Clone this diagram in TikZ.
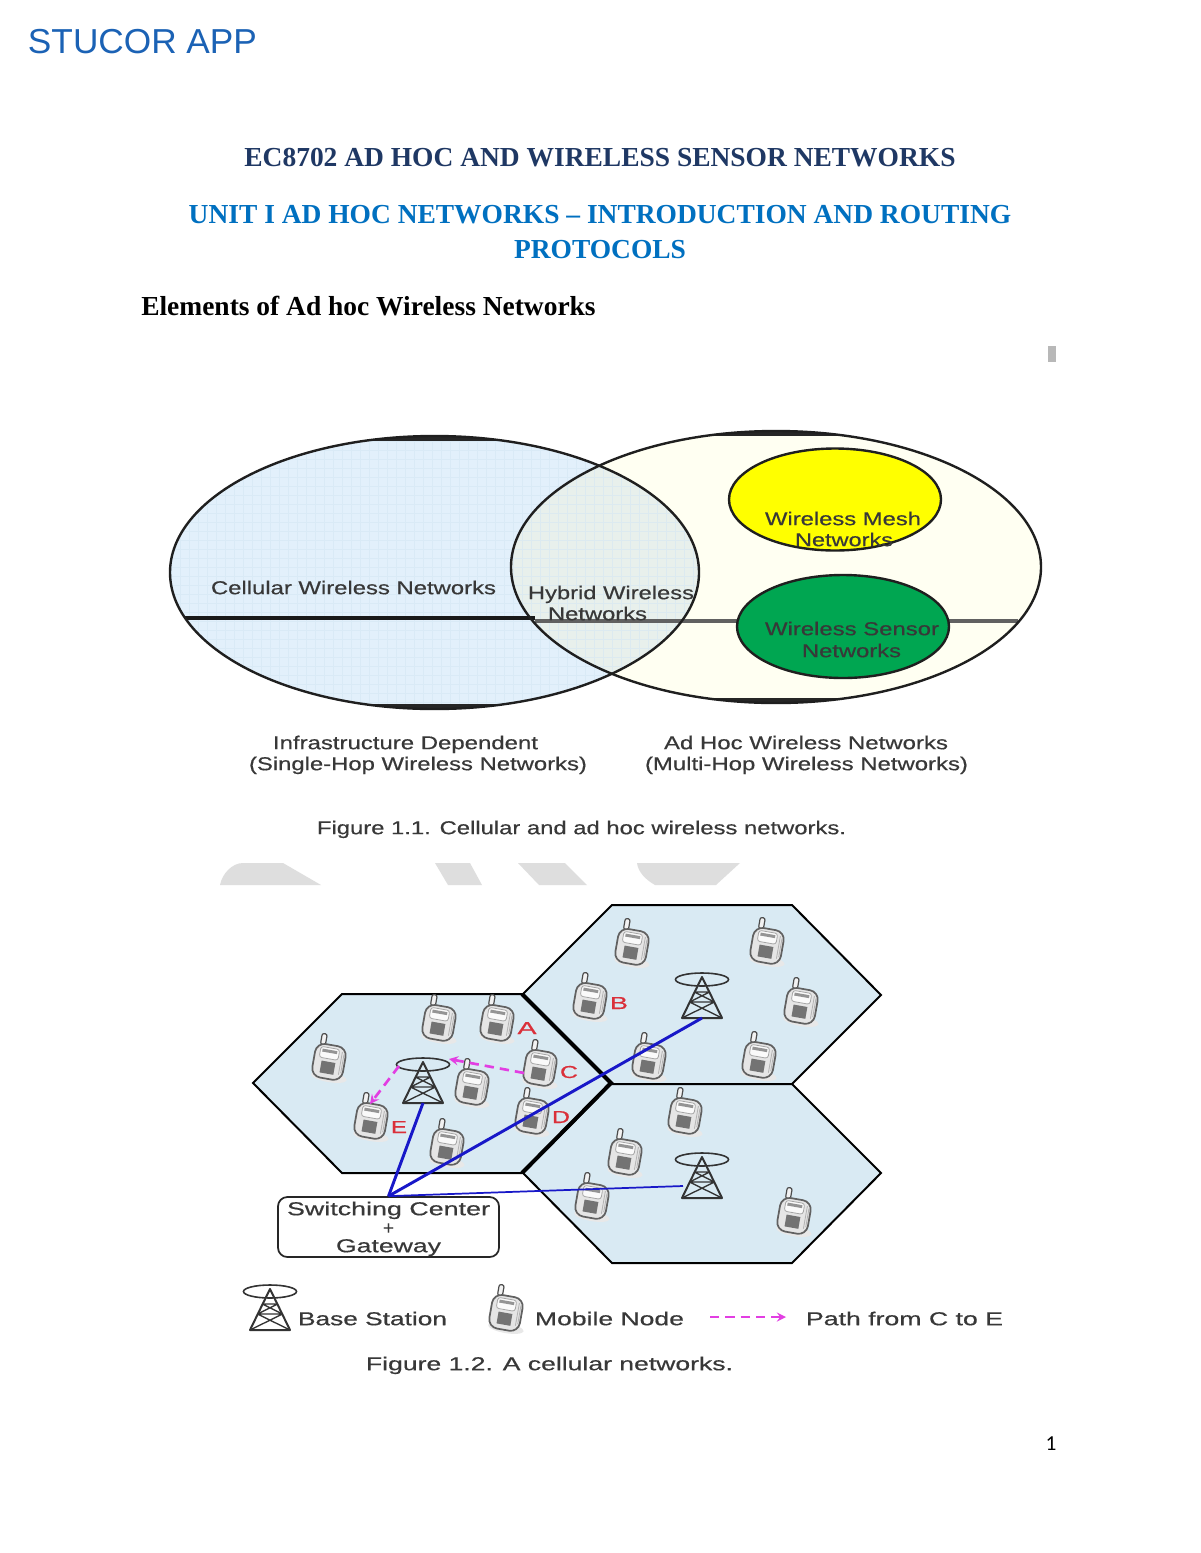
\documentclass[tikz,border=0pt]{standalone}
\usepackage{graphicx}
\usepackage{xcolor}
\usepackage{fontspec}
\setmainfont{Liberation Serif}
\newfontfamily\labelfont[FakeBold=0.4]{Liberation Sans}
\newfontfamily\brandfont{Liberation Sans}
\newfontfamily\pagefont{Carlito}
\usepackage{tikz}

% text stretched to a width given in pixels of the page
\newcommand{\fitwidth}[2]{\resizebox{\dimexpr #1pt*3/4\relax}{\height}{#2}}

\tikzset{
  headline/.style={inner sep=0.75pt,font=\fontsize{20.6}{24}\selectfont\bfseries},
  figlabel/.style={inner sep=0pt,text height=10.8pt,text depth=0pt,text=black!78,font=\labelfont\fontsize{14}{16}\selectfont},
  letterlabel/.style={inner sep=0pt,text height=10.5pt,text depth=0pt,text={rgb,255:red,218;green,48;blue,58},font=\labelfont\fontsize{13}{15}\selectfont},
  hexcell/.style={draw=black,line width=1.5pt,line join=miter,fill={rgb,255:red,217;green,234;blue,243}},
  sharededge/.style={draw=black,line width=3pt,line join=miter},
  venndark/.style={fill=black!85},
  vennline/.style={draw=black!88,line width=1.8pt},
  trunkthick/.style={draw={rgb,255:red,24;green,24;blue,200},line width=2.2pt},
  trunkthin/.style={draw={rgb,255:red,24;green,24;blue,200},line width=1.3pt},
  magentapath/.style={draw={rgb,255:red,226;green,62;blue,226},line width=2pt,dash pattern=on 7pt off 4.5pt,->,>=stealth},
  mobile/.pic={
    \fill [black!9] (2,-18) ellipse [x radius=18,y radius=5];
    \draw [black!70,fill=black!5,line width=0.9pt] (-12,13) [rounded corners=1.5pt] rectangle (-7,24);
    \draw [black!62,fill=black!10,line width=1.3pt] (-16,14) [rounded corners=7pt] rectangle (15,-20);
    \draw [black!35,fill=black!2,line width=0.6pt] (-11,11) [rounded corners=2pt] rectangle (8,0);
    \fill [black!42] (-9,9) rectangle (6,6);
    \fill [black!55] (-8,-3) rectangle (6,-15);
    \draw [black!30,line width=0.6pt] (11,9) -- (11,-14);
    \draw [black!30,line width=0.6pt] (13,7) -- (13,-12);
  },
  tower/.pic={
    \draw [black!80,line width=1.2pt] (0,38.5) ellipse [x radius=26.5,y radius=6.5];
    \draw [black!80,line width=1.5pt,line join=round] (-20,0) -- (0,41) -- (20,0) -- cycle;
    \draw [black!80,line width=1pt] (-12.5,16) -- (12.5,16) (-7.5,26) -- (7.5,26) (-12.5,16) -- (20,0) (12.5,16) -- (-20,0) (-7.5,26) -- (12.5,16) (7.5,26) -- (-12.5,16);
  },
}

\begin{document}
\begin{tikzpicture}[x=0.75pt,y=0.75pt,yscale=-1,xscale=1]
\useasboundingbox (0,0) rectangle (1200,1553);
\fill [white] (0,0) rectangle (1200,1553);

% Text Node
\draw (142.5,42) node (appname) [inner sep=0pt,text={rgb,255:red,27;green,98;blue,181},font=\brandfont\fontsize{26}{30}\selectfont] {\fitwidth{229}{STUCOR APP}};
% Text Node
\draw (600,158) node (coursetitle) [headline,text={rgb,255:red,31;green,56;blue,100}] {EC8702 AD HOC AND WIRELESS SENSOR NETWORKS};
% Text Node
\draw (600,215) node (unitone) [headline,text={rgb,255:red,0;green,112;blue,192}] {UNIT I AD HOC NETWORKS -- INTRODUCTION AND ROUTING};
% Text Node
\draw (600,250) node (unittwo) [headline,text={rgb,255:red,0;green,112;blue,192}] {PROTOCOLS};
% Text Node
\draw (140,306) node (elements) [headline,anchor=west,text=black] {Elements of Ad hoc Wireless Networks};
% Text Node
\draw (1051,1444) node (pagenum) [inner sep=0pt,font=\pagefont\fontsize{16}{18}\selectfont] {1};

%Small mark
\fill [black!28] (1048,346) rectangle (1056,362);

%Venn fills
\fill [fill={rgb,255:red,255;green,255;blue,242}] (776,567) ellipse [x radius=265,y radius=136];
\fill [fill={rgb,255:red,226;green,240;blue,251}] (434.5,572.5) ellipse [x radius=264.5,y radius=136.5];
\begin{scope}
\clip (434.5,572.5) ellipse [x radius=264.5,y radius=136.5];
\fill [fill={rgb,255:red,232;green,240;blue,236}] (776,567) ellipse [x radius=265,y radius=136];
\draw [draw={rgb,255:red,212;green,230;blue,244},line width=0.5pt,opacity=0.6,step=9] (170,430) grid (700,715);
\end{scope}
%Dark bands of the left ellipse
\begin{scope}
\clip (434.5,572.5) ellipse [x radius=264.5,y radius=136.5];
\fill [venndark] (170,430) rectangle (700,441);
\fill [venndark] (170,704) rectangle (700,715);
\end{scope}
%Dark bands of the right ellipse
\begin{scope}
\clip (776,567) ellipse [x radius=265,y radius=136];
\fill [venndark] (510,425) rectangle (1042,436);
\fill [venndark] (510,698) rectangle (1042,710);
\end{scope}
%Straight Lines
\draw [draw=black!90,line width=2.6pt] (185,618) -- (535,618);
\draw [draw=black!62,line width=2.6pt] (535,621) -- (1018,621);
%Venn outlines
\draw [vennline] (434.5,572.5) ellipse [x radius=264.5,y radius=136.5];
\draw [vennline] (776,567) ellipse [x radius=265,y radius=136];
\draw [vennline,fill={rgb,255:red,255;green,255;blue,0}] (835,499.5) ellipse [x radius=106,y radius=51];
\draw [vennline,fill={rgb,255:red,0;green,166;blue,81}] (843,626.5) ellipse [x radius=106,y radius=51.5];

% Text Node
\draw (353.5,587) node (cellular) [figlabel] {\fitwidth{285}{Cellular Wireless Networks}};
% Text Node
\draw (611,592) node (hybrid) [figlabel] {\fitwidth{166}{Hybrid Wireless}};
% Text Node
\draw (597.5,613) node (hybridnet) [figlabel] {\fitwidth{99}{Networks}};
% Text Node
\draw (843,518) node (mesh) [figlabel] {\fitwidth{156}{Wireless Mesh}};
% Text Node
\draw (844,539) node (meshnet) [figlabel] {\fitwidth{98}{Networks}};
% Text Node
\draw (852,628) node (sensor) [figlabel] {\fitwidth{174}{Wireless Sensor}};
% Text Node
\draw (851.5,650) node (sensornet) [figlabel] {\fitwidth{99}{Networks}};
% Text Node
\draw (405.5,742) node (infra) [figlabel] {\fitwidth{265}{Infrastructure Dependent}};
% Text Node
\draw (418,763) node (singlehop) [figlabel] {\fitwidth{338}{(Single-Hop Wireless Networks)}};
% Text Node
\draw (806,742) node (adhoc) [figlabel] {\fitwidth{284}{Ad Hoc Wireless Networks}};
% Text Node
\draw (806.5,763) node (multihop) [figlabel] {\fitwidth{323}{(Multi-Hop Wireless Networks)}};
% Text Node
\draw (581.5,827) node (figone) [figlabel] {\fitwidth{529}{Figure 1.1. Cellular and ad hoc wireless networks.}};

%Watermark pieces
\fill [black!13] (220,885) .. controls (222,874) and (232,863) .. (243,863) -- (283,863) -- (321,885) -- cycle;
\fill [black!13] (435,863) -- (470,863) -- (482,885) -- (448,885) -- cycle;
\fill [black!13] (518,863) -- (565,863) -- (587,885) -- (539,885) -- cycle;
\fill [black!13] (637,863) -- (740,863) -- (716,885) -- (655,885) .. controls (646,880) and (638,872) .. (637,863) -- cycle;

%Cells
\draw [hexcell] (253,1083) -- (342,994) -- (522,994) -- (611,1083) -- (522,1173) -- (342,1173) -- cycle;
\draw [hexcell] (523,994) -- (612,905) -- (792,905) -- (881,995) -- (792,1084) -- (611,1084) -- cycle;
\draw [hexcell] (523,1173) -- (611,1084) -- (792,1084) -- (881,1173) -- (792,1263) -- (612,1263) -- cycle;
\draw [sharededge] (522,994) -- (611,1083) -- (522,1173);

%Mobile nodes, upper cell
\pic [rotate=-10] at (633,944) {mobile};
\pic [rotate=-10] at (768,943) {mobile};
\pic [rotate=-10] at (591,998) {mobile};
\pic [rotate=-10] at (802,1003) {mobile};
\pic [rotate=-10] at (650,1058) {mobile};
\pic [rotate=-10] at (760,1057) {mobile};
%Mobile nodes, left cell
\pic [rotate=-10] at (330,1059) {mobile};
\pic [rotate=-10] at (440,1020) {mobile};
\pic [rotate=-10] at (498,1020) {mobile};
\pic [rotate=-10] at (541,1065) {mobile};
\pic [rotate=-10] at (473,1084) {mobile};
\pic [rotate=-10] at (533,1113) {mobile};
\pic [rotate=-10] at (372,1118) {mobile};
\pic [rotate=-10] at (448,1144) {mobile};
%Mobile nodes, lower cell
\pic [rotate=-10] at (686,1113) {mobile};
\pic [rotate=-10] at (626,1154) {mobile};
\pic [rotate=-10] at (593,1198) {mobile};
\pic [rotate=-10] at (795,1213) {mobile};

%Base stations
\pic at (423,1103) {tower};
\pic at (702,1018) {tower};
\pic at (702,1198) {tower};
\coordinate (baseleft) at (423,1103);
\coordinate (baseupper) at (702,1018);
\coordinate (baselower) at (683,1186);

% Text Node
\draw (388.5,1227) node (switchbox) [draw=black!85,line width=1.3pt,rounded corners=7pt,minimum width=165.75pt,minimum height=45pt,inner sep=0pt] {};
% Text Node
\draw (388.5,1208) node (switchone) [figlabel] {\fitwidth{203}{Switching Center}};
% Text Node
\draw (388.5,1227) node (switchtwo) [figlabel] {+};
% Text Node
\draw (388.5,1245) node (switchthree) [figlabel] {\fitwidth{105}{Gateway}};

%Straight Lines
\draw [trunkthick] (switchbox.north) -- (baseleft);
\draw [trunkthick] (switchbox.north) -- (baseupper);
\draw [trunkthin] (switchbox.north) -- (baselower);

%Path from C to E
\coordinate (pathC) at (524,1073);
\coordinate (pathtop) at (449,1059);
\coordinate (pathbend) at (399,1066);
\coordinate (pathE) at (370,1104);
\draw [magentapath] (pathC) -- (pathtop);
\draw [magentapath] (pathbend) -- (pathE);

% Text Node
\draw (527,1027) node (labelA) [letterlabel] {\fitwidth{19}{A}};
% Text Node
\draw (619,1002) node (labelB) [letterlabel] {\fitwidth{18}{B}};
% Text Node
\draw (569,1071) node (labelC) [letterlabel] {\fitwidth{18}{C}};
% Text Node
\draw (561,1116) node (labelD) [letterlabel] {\fitwidth{18}{D}};
% Text Node
\draw (399,1126) node (labelE) [letterlabel] {\fitwidth{16}{E}};

%Legend
\pic at (270,1330) {tower};
\pic [rotate=-10] at (507,1310) {mobile};
\coordinate (legendstart) at (710,1317);
\coordinate (legendend) at (786,1317);
\draw [magentapath] (legendstart) -- (legendend);
% Text Node
\draw (372.5,1318) node (legendbase) [figlabel] {\fitwidth{149}{Base Station}};
% Text Node
\draw (609.5,1318) node (legendmobile) [figlabel] {\fitwidth{149}{Mobile Node}};
% Text Node
\draw (904.5,1318) node (legendpath) [figlabel] {\fitwidth{197}{Path from C to E}};
% Text Node
\draw (549.5,1363) node (figtwo) [figlabel] {\fitwidth{367}{Figure 1.2. A cellular networks.}};

\end{tikzpicture}
\end{document}
